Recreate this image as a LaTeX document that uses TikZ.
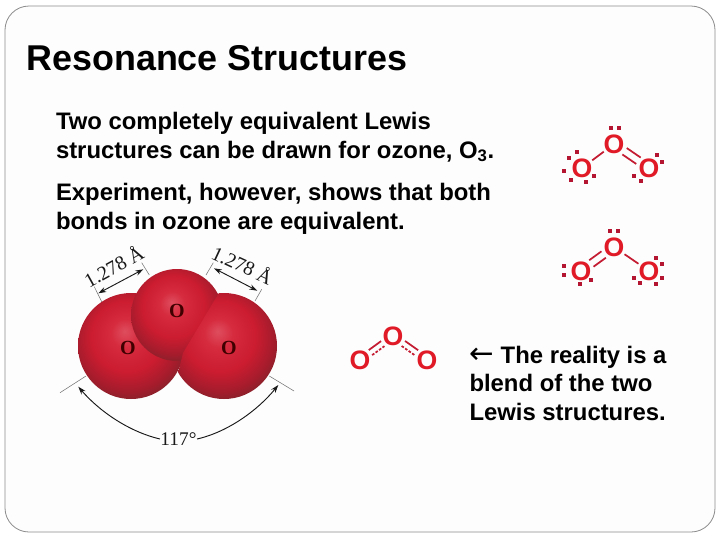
\documentclass[tikz,border=0pt]{standalone}
\usepackage{fontspec}
\setmainfont{Liberation Sans}
\newfontfamily\serifatom{Liberation Serif}
\newfontfamily\arrowfont{DejaVu Sans}
\usetikzlibrary{arrows.meta}
\definecolor{lewisred}{RGB}{224,26,38}
\definecolor{dotred}{RGB}{180,22,50}
\definecolor{bondred}{RGB}{196,28,50}
\definecolor{ballcore}{RGB}{222,78,94}
\definecolor{ballglow}{RGB}{214,42,62}
\definecolor{ballmain}{RGB}{203,28,48}
\definecolor{ballshade}{RGB}{164,28,44}
\definecolor{balldark}{RGB}{112,38,42}
\pgfdeclareradialshading{oxygenball}{\pgfpoint{-3bp}{7bp}}{%
	color(0bp)=(ballcore);
	color(7bp)=(ballglow);
	color(17bp)=(ballmain);
	color(25bp)=(ballshade);
	color(32bp)=(balldark);
	color(50bp)=(balldark)}
\tikzset{every picture/.style={line width=0.75pt}}
\tikzset{
	slidetitle/.style={anchor=base west,inner sep=0pt,font=\fontsize{26.9}{26.9}\selectfont\bfseries},
	bodytext/.style={anchor=base west,inner sep=0pt,align=left,font=\fontsize{17.9}{21.3}\selectfont\bfseries},
	atom/.style={text=lewisred,inner sep=0pt,font=\fontsize{20}{20}\selectfont\bfseries},
	lonedot/.style={fill=dotred,inner sep=0pt,minimum size=3pt,shape=rectangle},
	bond/.style={color=bondred,line width=1.3pt,shorten <=9.6pt,shorten >=9.6pt},
	tick/.style={color=black!55,line width=0.4pt},
	dimline/.style={color=black!90,line width=0.7pt,{Stealth[length=6pt,width=4pt]}-{Stealth[length=6pt,width=4pt]}},
	anglearc/.style={color=black!90,line width=0.7pt},
	dimlabel/.style={inner sep=0pt,text=black!90,font=\fontsize{15}{15}\selectfont\serifatom},
	symbol/.style={inner sep=0pt,text=black!75!red,font=\fontsize{15}{15}\selectfont\serifatom\bfseries}
}
\begin{document}
\begin{tikzpicture}[x=0.75pt,y=0.75pt,yscale=-1,xscale=1]
	\useasboundingbox (0,0) rectangle (720,540);
	\fill [white] (0,0) rectangle (720,540);
	\draw [color=black!45,fill={rgb,255:red,253;green,253;blue,253},line width=0.6pt,rounded corners=18pt] (5,6) rectangle (715,532);

	%title and text
	\node [slidetitle] (title) at (26,70) {Resonance Structures};
	\node [bodytext] (first) at (55.5,158) {Two completely equivalent Lewis\\structures can be drawn for ozone, O\textsubscript{3}.};
	\node [bodytext] (second) at (55.5,229) {Experiment, however, shows that both\\bonds in ozone are equivalent.};
	\node [bodytext] (blend) at (469,420) {{\arrowfont\mdseries\fontsize{22}{22}\selectfont ←} The reality is a\\blend of the two\\Lewis structures.};

	%space filling model
	\shade [shading=oxygenball] (131,346) circle [radius=53];
	\shade [shading=oxygenball] (177,315) circle [radius=46];
	\begin{scope}
		\clip (220,291) -- (183,353) -- (178,373) -- (200,410) -- (290,410) -- (290,280) -- cycle;
		\shade [shading=oxygenball] (224,346) circle [radius=53];
	\end{scope}
	\node [symbol] (oleft) at (128,348) {O};
	\node [symbol] (otop) at (177,311) {O};
	\node [symbol] (oright) at (229,348) {O};

	%dimension marks
	\draw [tick] (94.3,286.7) -- (101.7,301.7);
	\draw [tick] (141.7,262.7) -- (149.3,275);
	\draw [tick] (206,275) -- (213.3,262.7);
	\draw [tick] (255,301) -- (261.7,289.3);
	\draw [tick] (60,392.7) -- (86,376);
	\draw [tick] (269.3,376) -- (294,391);
	\coordinate (leftstart) at (98.3,293.3);
	\coordinate (leftend) at (143.3,269.3);
	\coordinate (rightstart) at (214,268.3);
	\coordinate (rightend) at (257.3,290.7);
	\coordinate (arcleft) at (78.3,386.7);
	\coordinate (arcright) at (278.3,385);
	\draw [dimline] (leftstart) -- (leftend);
	\draw [dimline] (rightstart) -- (rightend);
	\node [dimlabel,rotate=29] (leftlabel) at (113.3,266) {1.278 Å};
	\node [dimlabel,rotate=-25] (rightlabel) at (242.7,264.5) {1.278 Å};
	\node [dimlabel,font=\fontsize{14.5}{14.5}\selectfont\serifatom] (angle) at (178.5,439) {117°};
	\draw [anglearc,{Stealth[length=6pt,width=4pt]}-] (arcleft) .. controls (100,412) and (130,432) .. (angle.west);
	\draw [anglearc,{Stealth[length=6pt,width=4pt]}-] (arcright) .. controls (258,410) and (228,432) .. (angle.east);

	%first lewis structure
	\node [atom] (a1) at (614,144) {O};
	\node [atom] (a2) at (582,168) {O};
	\node [atom] (a3) at (649,168) {O};
	\draw [bond] (a2.center) -- (a1.center);
	\draw [bond] ([shift={(2.2,-3.2)}]a1.center) -- ([shift={(2.2,-3.2)}]a3.center);
	\draw [bond] ([shift={(-2.2,3.2)}]a1.center) -- ([shift={(-2.2,3.2)}]a3.center);
	\foreach \px/\py in {611/128.3,618.7/128.3,569/157.7,577.3/151.7,564.3/170.7,571.3/180.3,586/182.3,594/175.7,657/155,662.3/161.7,634.3/175.7,641.3/180.7}
		\node [lonedot] at (\px,\py) {};

	%second lewis structure
	\node [atom] (b1) at (614,247) {O};
	\node [atom] (b2) at (581,271) {O};
	\node [atom] (b3) at (649,271) {O};
	\draw [bond] (b1.center) -- (b3.center);
	\draw [bond] ([shift={(-2.2,-3.2)}]b2.center) -- ([shift={(-2.2,-3.2)}]b1.center);
	\draw [bond] ([shift={(2.2,3.2)}]b2.center) -- ([shift={(2.2,3.2)}]b1.center);
	\foreach \px/\py in {610.3/231,618/231,564.3/266,564.3/275.3,580/284.3,590.7/280,656.3/257.7,661.7/264.3,661.7/277.7,656.3/283.7,640.3/283,634/277.7}
		\node [lonedot] at (\px,\py) {};

	%blended structure
	\node [atom] (c1) at (393,336) {O};
	\node [atom] (c2) at (360,360) {O};
	\node [atom] (c3) at (427,360) {O};
	\draw [bond] ([shift={(-1.6,-2.4)}]c2.center) -- ([shift={(-1.6,-2.4)}]c1.center);
	\draw [bond,dash pattern=on 2pt off 1.2pt] ([shift={(1.8,2.6)}]c2.center) -- ([shift={(1.8,2.6)}]c1.center);
	\draw [bond] ([shift={(1.6,-2.4)}]c1.center) -- ([shift={(1.6,-2.4)}]c3.center);
	\draw [bond,dash pattern=on 2pt off 1.2pt] ([shift={(-1.8,2.6)}]c1.center) -- ([shift={(-1.8,2.6)}]c3.center);
\end{tikzpicture}
\end{document}
